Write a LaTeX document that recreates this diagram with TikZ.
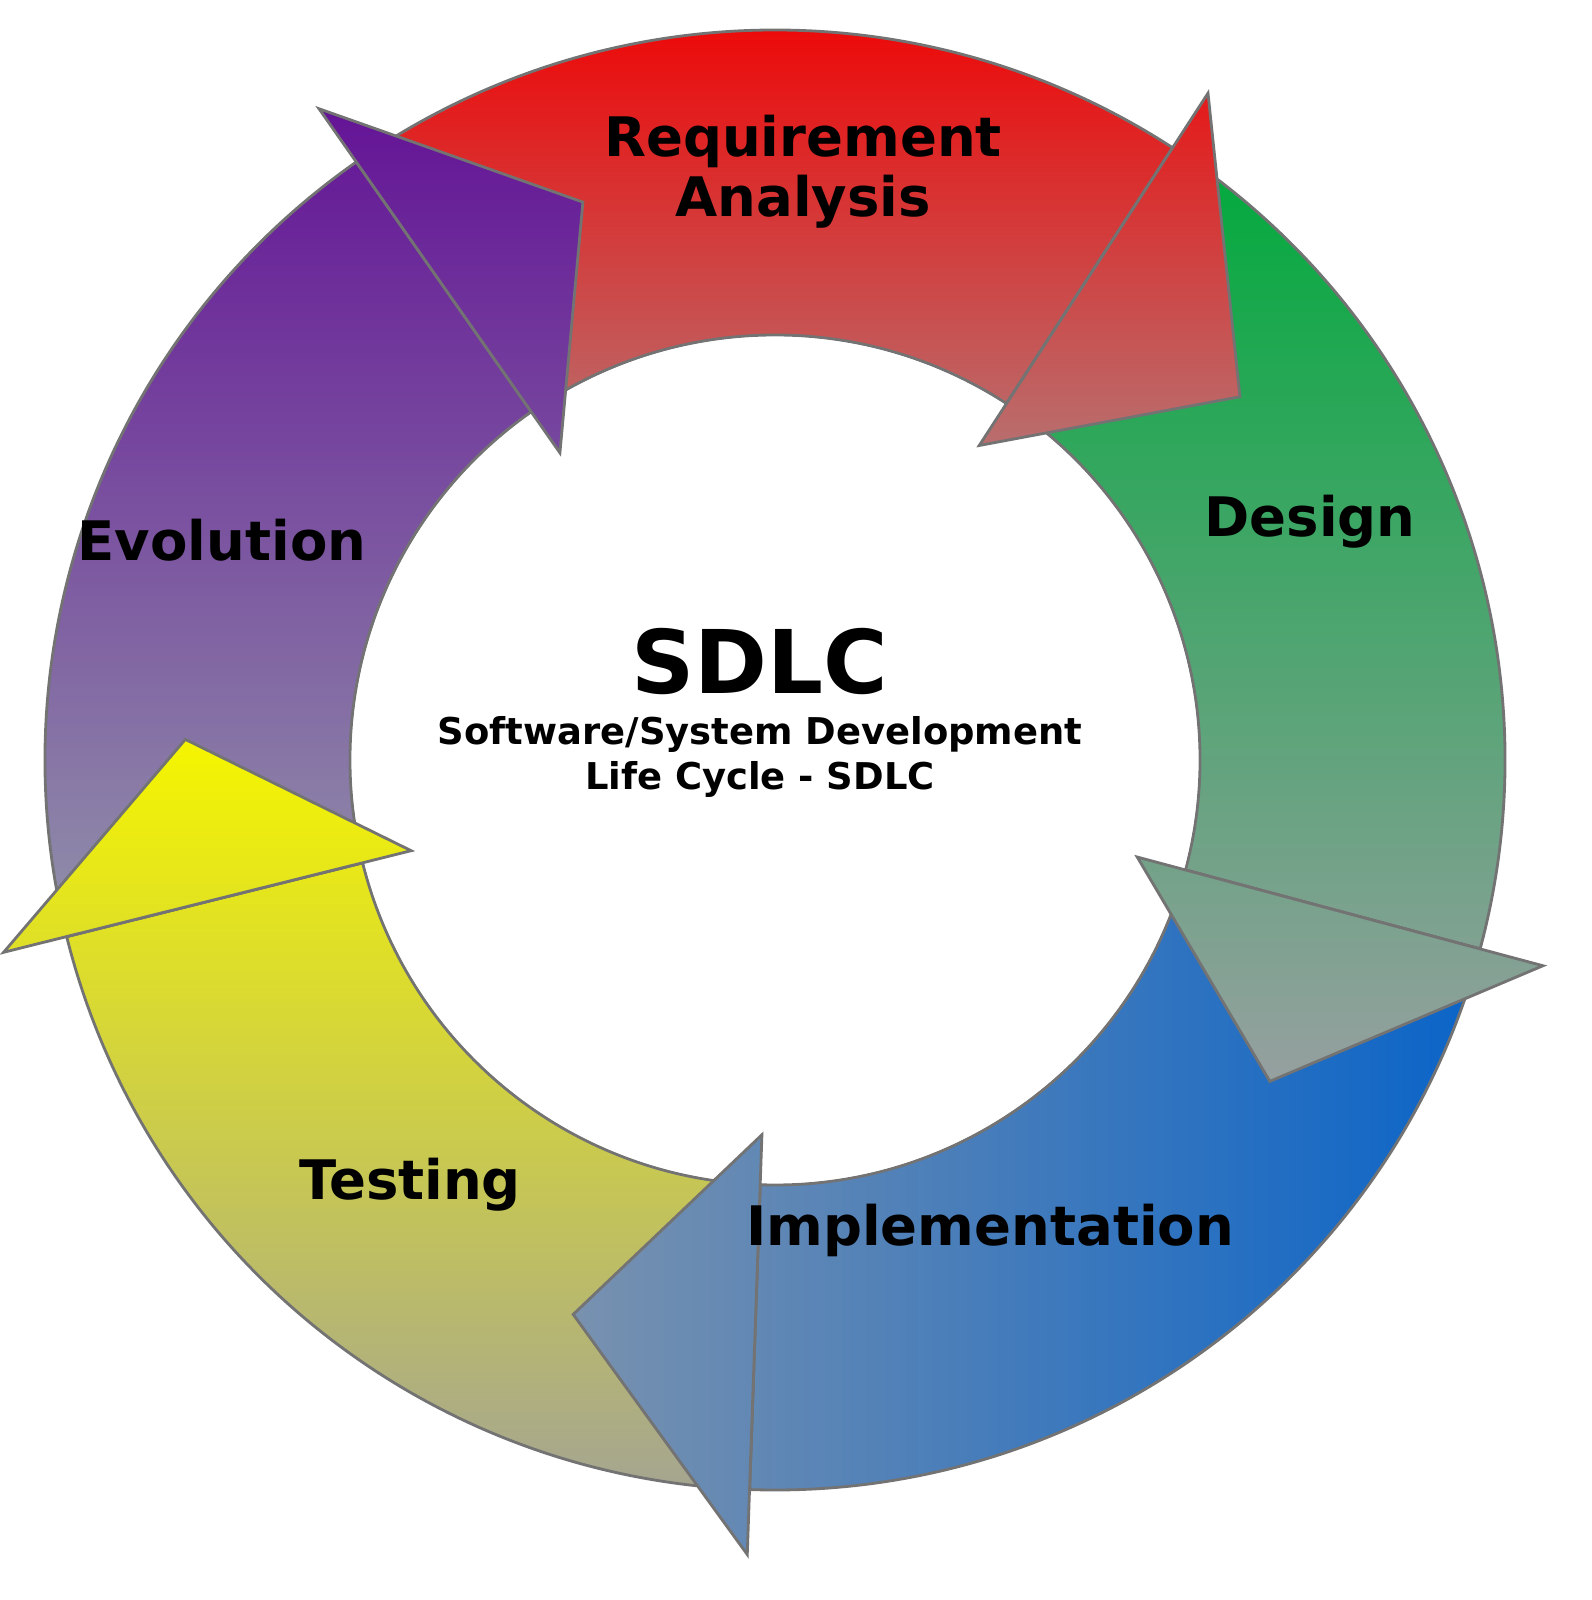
\documentclass[tikz,border=0pt]{standalone}
\usepackage{fontspec}
\setmainfont{DejaVu Sans}
\begin{document}
\begin{tikzpicture}
\useasboundingbox (0,0) rectangle (15.91,16);
\def\RO{7.3}\def\RI{4.25}
\newcommand{\fullpath}[3]{(#1:\RO) arc[start angle=#1,end angle=#2,radius=\RO] -- (#2:\RO+0.65) -- (#3:5.9) -- (#2:\RI-0.5) -- (#2:\RI) arc[start angle=#2,end angle=#1,radius=\RI] -- cycle}
\newcommand{\bodypath}[2]{(#1:\RO) arc[start angle=#1,end angle=#2,radius=\RO] -- (#2:\RI) arc[start angle=#2,end angle=#1,radius=\RI] -- cycle}
\newcommand{\headpath}[3]{(#2:\RO+0.65) -- (#3:5.9) -- (#2:\RI-0.5) -- cycle}
\tikzset{edge/.style={draw=black!55,line width=0.8pt},
 cred/.style={top color=red!95!black,bottom color={rgb,255:red,185;green,110;blue,110}},
 cgreen/.style={top color={rgb,255:red,0;green,170;blue,60},bottom color={rgb,255:red,150;green,160;blue,160}},
 cblue/.style={right color={rgb,255:red,10;green,100;blue,200},left color={rgb,255:red,120;green,145;blue,175}},
 cyellow/.style={top color={rgb,255:red,245;green,245;blue,0},bottom color={rgb,255:red,165;green,165;blue,145}},
 cpurple/.style={top color={rgb,255:red,100;green,20;blue,150},bottom color={rgb,255:red,145;green,145;blue,170}},
 lbl/.style={font=\bfseries\fontsize{15.5}{19}\selectfont,align=center}}
\newcommand{\body}[4]{\begin{scope}\clip \bodypath{#1}{#2}; \shade[#4] \fullpath{#1}{#2}{#3};\end{scope}\draw[edge] \bodypath{#1}{#2};}
\newcommand{\head}[4]{\begin{scope}\clip \headpath{#1}{#2}{#3}; \shade[#4] \fullpath{#1}{#2}{#3};\end{scope}\draw[edge] \headpath{#1}{#2}{#3};}
\begin{scope}[shift={(7.75,8.4)}]
 \body{125}{57}{38}{cred}
 \body{57}{-15}{-33}{cgreen}
 \body{-15}{-92}{-110}{cblue}
 \body{-92}{-166}{-182}{cyellow}
 \body{-166}{-235}{-251}{cpurple}
 \fill[white] (0,0) circle (\RI-0.02);
 \head{125}{57}{38}{cred}
 \head{57}{-15}{-33}{cgreen}
 \head{-15}{-92}{-110}{cblue}
 \head{-92}{-166}{-182}{cyellow}
 \head{-166}{-235}{-251}{cpurple}
\end{scope}
\node[lbl] (req) at (8.03,14.28) {Requirement\\[-2pt]Analysis};
\node[lbl] (des) at (13.1,10.78) {Design};
\node[lbl] (imp) at (9.9,3.7) {Implementation};
\node[lbl] (tst) at (4.1,4.15) {Testing};
\node[lbl] (evo) at (2.22,10.6) {Evolution};
\node[font=\bfseries\fontsize{25}{30}\selectfont] (sdlc) at (7.6,9.38) {SDLC};
\node[font=\bfseries\fontsize{10.5}{13}\selectfont,align=center] (sub) at (7.6,8.43) {Software/System Development\\Life Cycle - SDLC};
\end{tikzpicture}
\end{document}
